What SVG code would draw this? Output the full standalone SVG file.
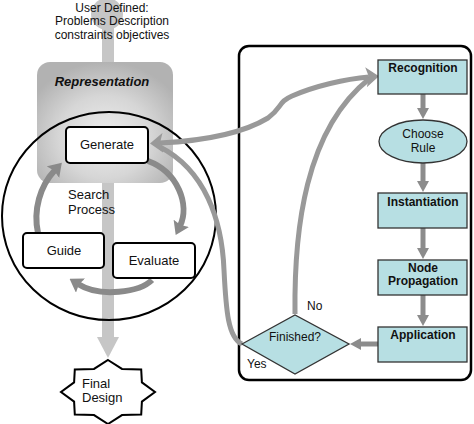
<svg xmlns="http://www.w3.org/2000/svg" width="474" height="424" viewBox="0 0 474 424">
<style>
text{font-family:"Liberation Sans",Arial,sans-serif;fill:#111}
.t13{font-size:13px}
.t12{font-size:12px}
.b{font-weight:bold}
.box{fill:#fff;stroke:#000;stroke-width:2}
.cy{fill:#b7dfe3;stroke:#333;stroke-width:1.3}
.gcon{fill:none;stroke:#999;stroke-width:5}
.arc{fill:none;stroke:#8a8a8a;stroke-width:6}
.vcon{fill:none;stroke:#8c8c8c;stroke-width:5}
</style>
<defs>
<radialGradient id="rep" cx="50%" cy="62%" r="62%">
<stop offset="0" stop-color="#eeeeee"/>
<stop offset="0.55" stop-color="#d6d6d6"/>
<stop offset="1" stop-color="#b2b2b2"/>
</radialGradient>
<marker id="big" viewBox="0 0 13 20" refX="3" refY="10" markerWidth="13" markerHeight="20" markerUnits="userSpaceOnUse" orient="auto-start-reverse">
<path d="M0,0 L13,10 L0,20 L3,10 Z" fill="#999"/>
</marker>
<marker id="arcH" viewBox="0 0 13 17" refX="3" refY="8.5" markerWidth="13" markerHeight="17" markerUnits="userSpaceOnUse" orient="auto">
<path d="M0,0 L13,8.5 L0,17 L2,8.5 Z" fill="#8a8a8a"/>
</marker>
<marker id="sm" viewBox="0 0 11 12" refX="3" refY="6" markerWidth="11" markerHeight="12" markerUnits="userSpaceOnUse" orient="auto">
<path d="M0,0 L11,6 L0,12 Z" fill="#8c8c8c"/>
</marker>
</defs>

<!-- background shapes -->
<ellipse cx="109" cy="216" rx="107" ry="104" fill="#fff"/>
<g id="stem">
<circle cx="107" cy="14" r="16" fill="#c6c6c6"/>
<rect x="102" y="14" width="12" height="324" fill="#c6c6c6"/>
<polygon points="97,337 119,337 108,358" fill="#c6c6c6"/>
</g>
<g id="representation">
<rect x="37" y="62" width="136" height="121" rx="13" fill="url(#rep)"/>
<text class="t13 b" x="102" y="86" text-anchor="middle" font-style="italic">Representation</text>
</g>
<g id="search-circle">
<ellipse cx="109" cy="216" rx="107" ry="104" fill="none" stroke="#000" stroke-width="2"/>
</g>

<g id="user-defined">
<text class="t12" x="112" y="11.5" text-anchor="middle">User Defined:</text>
<text class="t12" x="112" y="25" text-anchor="middle">Problems Description</text>
<text class="t12" x="112" y="38.5" text-anchor="middle">constraints objectives</text>
</g>

<g id="right-panel">
<rect x="239" y="46" width="232" height="334" rx="10" fill="#fff" stroke="#000" stroke-width="2.5"/>
</g>

<g id="connectors">
<path class="arc" d="M148,161 C178,172 190,205 180,226" marker-end="url(#arcH)"/>
<path class="arc" d="M152,280 C140,292 100,298 78,284" marker-end="url(#arcH)"/>
<path class="arc" d="M38,233 C33,210 40,186 55,170" marker-end="url(#arcH)"/>
<path class="gcon" d="M160,143 C200,141 240,135 268,118 C282,108 278,102 292,96 C315,86 345,79 369,77" marker-start="url(#big)" marker-end="url(#big)"/>
<path class="gcon" d="M295,314 C294,230 305,130 369,79"/>
<path class="gcon" stroke-width="4" d="M242,344 C228,338 226,310 224,270 C222,220 205,170 160,147"/>
<path class="vcon" d="M423,94 L423,111" marker-end="url(#sm)"/>
<path class="vcon" d="M423,163 L423,184" marker-end="url(#sm)"/>
<path class="vcon" d="M423,228 L423,251" marker-end="url(#sm)"/>
<path class="vcon" d="M423,295 L423,318" marker-end="url(#sm)"/>
<path class="vcon" d="M378,344 L358,344" marker-end="url(#sm)"/>
</g>

<g id="generate">
<rect class="box" x="66" y="127" width="82" height="36" rx="4"/>
<text class="t13" x="107" y="149" text-anchor="middle">Generate</text>
</g>
<g id="search-process">
<text class="t13" x="68" y="199">Search</text>
<text class="t13" x="68" y="214">Process</text>
</g>
<g id="guide">
<rect class="box" x="23" y="233" width="81" height="35" rx="4"/>
<text class="t13" x="64" y="255" text-anchor="middle">Guide</text>
</g>
<g id="evaluate">
<rect class="box" x="113" y="243" width="82" height="35" rx="4"/>
<text class="t13" x="154" y="265" text-anchor="middle">Evaluate</text>
</g>
<g id="final-design">
<polygon points="108,360 122,368.9 141.2,369.4 141.9,382.4 155,392 141.9,401.6 141.2,414.6 122,415.1 108,424 94,415.1 74.8,414.6 74.1,401.6 61,392 74.1,382.4 74.8,369.4 94,368.9" fill="#fff" stroke="#000" stroke-width="2"/>
<text class="t13" x="82" y="388">Final</text>
<text class="t13" x="82" y="402">Design</text>
</g>

<g id="recognition">
<rect class="cy" x="378" y="60" width="89" height="34"/>
<text class="t12 b" x="423" y="72" text-anchor="middle">Recognition</text>
</g>
<g id="choose-rule">
<ellipse class="cy" cx="423" cy="141.5" rx="44" ry="21.5"/>
<text class="t12" x="423" y="138" text-anchor="middle">Choose</text>
<text class="t12" x="423" y="152" text-anchor="middle">Rule</text>
</g>
<g id="instantiation">
<rect class="cy" x="378" y="193" width="89" height="35"/>
<text class="t12 b" x="423" y="206" text-anchor="middle">Instantiation</text>
</g>
<g id="node-propagation">
<rect class="cy" x="378" y="260" width="89" height="35"/>
<text class="t12 b" x="423" y="272" text-anchor="middle">Node</text>
<text class="t12 b" x="423" y="285" text-anchor="middle">Propagation</text>
</g>
<g id="application">
<rect class="cy" x="378" y="327" width="89" height="35"/>
<text class="t12 b" x="423" y="339" text-anchor="middle">Application</text>
</g>
<g id="finished">
<polygon class="cy" points="242,344 295,315 349,344 295,374"/>
<text class="t12" x="295" y="341" text-anchor="middle">Finished?</text>
</g>
<text class="t12" x="307" y="310">No</text>
<text class="t12" x="247" y="368">Yes</text>
</svg>
